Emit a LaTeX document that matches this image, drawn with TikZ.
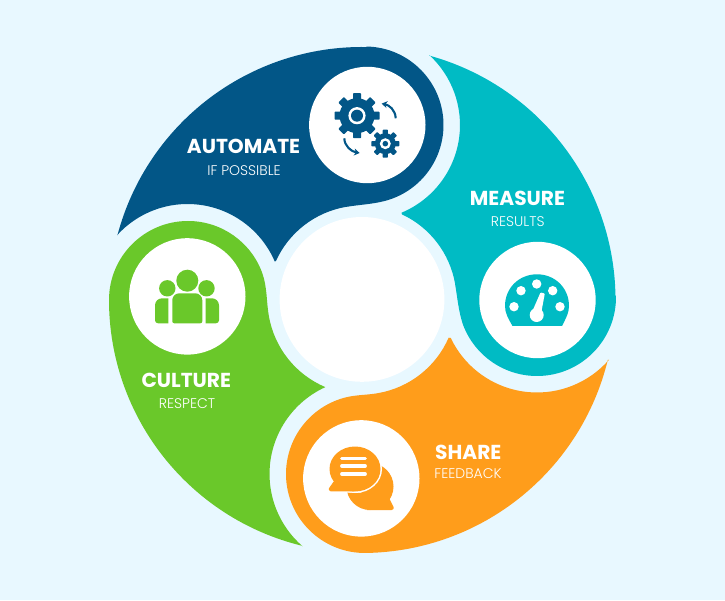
\documentclass[tikz,border=0pt]{standalone}
\usepackage{fontspec}
\setmainfont{Poppins}
\newfontfamily\poplight{Poppins Light}
\usetikzlibrary{arrows.meta}
\definecolor{bgc}{HTML}{E8F8FF}
\definecolor{cblue}{HTML}{025687}
\definecolor{cteal}{HTML}{00BBC4}
\definecolor{corange}{HTML}{FF9D1B}
\definecolor{cgreen}{HTML}{6AC82A}
\newcommand\arcc[5]{-- ([shift={(#1,#2)}]#4:#3) arc[start angle=#4,end angle=#5,radius=#3]}
\newcommand\gearicon[7]{%
  \foreach \a in {0,45,...,315}{%
    \fill[cblue,shift={(#1,#2)},rotate=\a,rounded corners=.7pt] (-#5,0) rectangle (#5,#4);}
  \fill[cblue] (#1,#2) circle[radius=#3];
  \fill[white] (#1,#2) circle[radius=#6];
  \fill[cblue] (#1,#2) circle[radius=#7];}
\tikzset{
  head/.style={text=white,inner sep=0pt,font=\bfseries\fontsize{20.2}{20}\selectfont},
  sub/.style={text=white,inner sep=0pt,font=\poplight\fontsize{14}{14}\selectfont},
  disc/.style={fill=white},
  gaparrow/.style={cblue,line width=2.1pt,-{Stealth[length=5.5pt,width=7pt]}}
}
\begin{document}
\begin{tikzpicture}[x=1pt,y=1pt]
\useasboundingbox (0,0) rectangle (725,600);
\fill[bgc] (0,0) rectangle (725,600);
% blue
\fill[cblue] (117,365) \arcc{362}{300}{253}{165.14}{89} \arcc{365}{475}{78.5}{89}{-75}
  .. controls (371.8,395.6) and (359.4,395.4) .. (345.6,393)
  \arcc{362}{300}{94.5}{100}{155.6} \arcc{187.5}{301}{95}{23.2}{137.8} -- cycle;
% teal
\fill[cteal] (429,544) \arcc{362}{300}{253.5}{74.65}{1} \arcc{537}{303}{79}{1}{-160}
  .. controls (458.4,289.4) and (457.4,302.6) .. (455,316.4)
  \arcc{362}{300}{94.5}{10}{65} \arcc{365}{475}{95}{-67.4}{47.2} -- cycle;
% orange
\fill[corange] (609,240) \arcc{362}{300}{253}{-13.65}{-89} \arcc{365}{126}{79}{-89}{-255}
  .. controls (356.2,205.4) and (366.6,204.8) .. (378.4,206.9)
  \arcc{362}{300}{94.5}{-80}{-23.5} \arcc{537}{303}{95.5}{205.4}{318.8} -- cycle;
% green
\fill[cgreen] (302,53.5) \arcc{362}{300}{253}{256.3}{180} \arcc{188}{300}{79}{180}{20}
  .. controls (267.3,312.9) and (266.3,298.4) .. (268.9,283.6)
  \arcc{362}{300}{94.5}{190}{247.1} \arcc{365}{126}{95.5}{114.8}{229} -- cycle;
\begin{scope}[shift={(0,600)},yscale=-1]
\fill[disc] (362,299.4) circle[radius=82.4];
\fill[disc] (367.3,125) circle[radius=58.2];
\fill[disc] (537.5,300) circle[radius=58.2];
\fill[disc] (361.3,478.4) circle[radius=58.2];
\fill[disc] (187.3,296.4) circle[radius=58.2];
% labels
\node[head] (autoT) at (243.5,146) {AUTOMATE};
\node[sub]  (autoS) at (244,171) {IF POSSIBLE};
\node[head] (measT) at (517.5,198) {MEASURE};
\node[sub]  (measS) at (517.8,221.5) {RESULTS};
\node[head] (shareT) at (468.3,452) {SHARE};
\node[sub]  (shareS) at (468,474) {FEEDBACK};
\node[head] (cultT) at (186.3,380) {CULTURE};
\node[sub]  (cultS) at (187,404) {RESPECT};
% gears
\gearicon{357}{115.7}{17.5}{22.5}{4}{8.6}{6}
\gearicon{385.3}{143.7}{10.5}{14}{2.6}{5.5}{2.8}
\draw[gaparrow] (395.7,118.3) .. controls (395.5,110) and (389,105) .. (381.7,103.6);
\draw[gaparrow] (344.3,138.3) .. controls (344.5,146) and (351,151.5) .. (359.6,153);
% gauge
\fill[cteal] (512.5,326) .. controls (508,318) and (505,313) .. (505,306)
  .. controls (505,288) and (519,274.3) .. (537,274.3)
  .. controls (555,274.3) and (569,288) .. (569,306)
  .. controls (569,313) and (566,318) .. (562,326) -- cycle;
\foreach \p in {(536.7,284),(521,290.7),(552.7,290.7),(514,306.7),(560,306.7)}
  \fill[white] \p circle[radius=4.7];
\fill[white] (536.7,315) circle[radius=7];
\fill[white,rounded corners=.8pt] (532,312) -- (540.5,292.5) -- (544.8,293.5) -- (541,314) -- cycle;
% chat, rear bubble
\fill[corange] (370,486.5) circle[radius=23.5];
\fill[corange,rounded corners=.8pt] (389,498) -- (394,508) -- (392.5,510) -- (366,510) -- cycle;
% chat, front bubble with white halo
\draw[white,fill=white,line width=3pt] (355,469) ellipse[x radius=25.5,y radius=22.5];
\draw[white,fill=white,line width=3pt] (334,481) -- (328.5,489) -- (330,491) -- (355,491) -- cycle;
\fill[corange] (355,469) ellipse[x radius=25.5,y radius=22.5];
\fill[corange,rounded corners=.8pt] (334,481) -- (328.5,489) -- (330,491.3) -- (355,491.3) -- cycle;
\foreach \yy in {458.3,466,474}
  \draw[white,line width=3.2pt,line cap=round] (341.7,\yy) -- (365.3,\yy);
% people
\fill[cgreen] (187.3,280.7) circle[radius=11];
\fill[cgreen] (167.3,288.3) circle[radius=8.2];
\fill[cgreen] (206.5,288.3) circle[radius=8.2];
\fill[cgreen] (172.3,323.3) [rounded corners=2pt] -- (172.3,301) [rounded corners=7pt] -- (172.3,293.3) -- (202.3,293.3) [rounded corners=2pt] -- (202.3,323.3) -- cycle;
\fill[cgreen] (168.3,323.3) [rounded corners=3pt] -- (155,323.3) [rounded corners=7pt] -- (155,298.3) [sharp corners] -- (168.3,298.3) -- cycle;
\fill[cgreen] (205.7,323.3) [rounded corners=3pt] -- (219,323.3) [rounded corners=7pt] -- (219,298.3) [sharp corners] -- (205.7,298.3) -- cycle;
\end{scope}
\end{tikzpicture}
\end{document}
